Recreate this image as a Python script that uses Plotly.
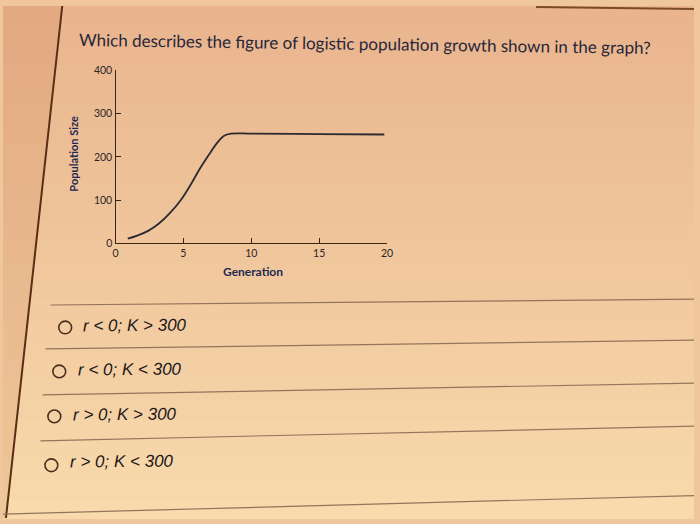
import plotly.graph_objects as go

# curve
generation = [0.9, 1.6, 2.4, 3.2, 4.0, 4.8, 5.5, 6.2, 6.9, 7.5, 8.0, 8.5, 10, 15, 19.8]
population = [11, 18, 29, 46, 70, 100, 134, 172, 206, 233, 249, 254, 254, 253, 252]

x_ticks = [0, 5, 10, 15, 20]
y_ticks = [0, 100, 200, 300, 400]

question = "Which describes the ﬁgure of logistic population growth shown in the graph?"
choices = ["r < 0; K > 300", "r < 0; K < 300", "r > 0; K > 300", "r > 0; K < 300"]

W, H = 700, 524
INK = "#3a2416"
NAVY = "#1d2a52"


def px(x, y):
    """pixel position -> paper coords"""
    return x / W, 1 - y / H


fig = go.Figure()
fig.add_trace(go.Scatter(
    x=generation, y=population, mode="lines",
    line=dict(color="#2a2a30", width=1.8, shape="spline", smoothing=1.0),
    hoverinfo="skip", showlegend=False,
))

shapes = []
# photo background: warm screen gradient, top to bottom
top, bottom = (233, 180, 142), (248, 218, 172)
n = 26
for i in range(n):
    t = i / (n - 1)
    c = tuple(round(a + (b - a) * t) for a, b in zip(top, bottom))
    x0, y0 = px(0, i * H / n)
    x1, y1 = px(W, (i + 1) * H / n + 1)
    shapes.append(dict(type="rect", xref="paper", yref="paper", x0=x0, x1=x1, y0=y1, y1=y0,
                       fillcolor="rgb(%d,%d,%d)" % c, line_width=0, layer="below"))
# darker strip left of the page edge
shapes.append(dict(type="path", xref="paper", yref="paper", layer="below",
                   path="M 0,1 L %f,1 L %f,0 L 0,0 Z" % (60 / W, 3 / W),
                   fillcolor="rgba(205,130,85,0.22)", line_width=0))
# page edges
for (xa, ya), (xb, yb), col in [((60, 0), (3, 524), "#5a2e15"),
                                ((540, 1), (700, 3), "#7a4a28")]:
    a, b = px(xa, ya), px(xb, yb)
    shapes.append(dict(type="line", xref="paper", yref="paper",
                       x0=a[0], y0=a[1], x1=b[0], y1=b[1], line=dict(color=col, width=2)))
# separators between answer choices
for (xa, ya), (xb, yb) in [((48, 306), (700, 300)), ((43, 351), (700, 342)),
                           ((40, 398), (700, 386)), ((38, 445), (700, 430)),
                           ((0, 520), (700, 501))]:
    a, b = px(xa, ya), px(xb, yb)
    shapes.append(dict(type="line", xref="paper", yref="paper",
                       x0=a[0], y0=a[1], x1=b[0], y1=b[1],
                       line=dict(color="#94745c", width=1.2)))

qx, qy = px(367, 38)
annotations = [dict(text=question, x=qx, y=qy, xref="paper", yref="paper",
                    xanchor="center", yanchor="middle", showarrow=False, textangle=0.8,
                    font=dict(family="Lato", size=17, color="#28263a"))]

# radio buttons + choice labels (page is photographed slightly skewed)
circle_pos = [(63, 329), (57, 374), (52, 420), (49, 470)]
text_pos = [(79, 327), (74, 372), (69, 418), (66, 466)]
for lab, (cx, cy), (tx, ty) in zip(choices, circle_pos, text_pos):
    r = 6.5
    a, b = px(cx - r, cy - r), px(cx + r, cy + r)
    shapes.append(dict(type="circle", xref="paper", yref="paper",
                       x0=a[0], x1=b[0], y0=b[1], y1=a[1],
                       line=dict(color="#4a2e1c", width=1.6)))
    p = px(tx, ty)
    annotations.append(dict(text="<i>%s</i>" % lab, x=p[0], y=p[1], xref="paper", yref="paper",
                            xanchor="left", yanchor="middle", showarrow=False, textangle=-0.5,
                            font=dict(family="Liberation Sans", size=17, color="#1e1a1a")))

# axis titles
p = px(71, 151)
annotations.append(dict(text="<b>Population Size</b>", x=p[0], y=p[1], xref="paper", yref="paper",
                        xanchor="center", yanchor="middle", showarrow=False, textangle=-90,
                        font=dict(family="Lato", size=11, color=NAVY)))
p = px(253, 272)
annotations.append(dict(text="<b>Generation</b>", x=p[0], y=p[1], xref="paper", yref="paper",
                        xanchor="center", yanchor="middle", showarrow=False,
                        font=dict(family="Lato", size=12, color=NAVY)))

axis_style = dict(showline=True, linecolor=INK, linewidth=1.4, ticks="inside", ticklen=5,
                  tickcolor=INK, tickwidth=1.2, showgrid=False, zeroline=False,
                  tickfont=dict(family="Lato", size=10.5, color="#2e2626"), fixedrange=True)

fig.update_layout(
    width=W, height=H,
    margin=dict(l=0, r=0, t=0, b=0),
    paper_bgcolor="#f0c69c", plot_bgcolor="rgba(0,0,0,0)",
    xaxis=dict(domain=[114 / W, 389 / W], range=[0, 20], tickvals=x_ticks, **axis_style),
    yaxis=dict(domain=[1 - 243 / H, 1 - 66 / H], range=[0, 400], tickvals=y_ticks, **axis_style),
    shapes=shapes,
    annotations=annotations,
)

# the page's default 8px body margin would push the figure off the window
fig.write_html("out.html", config={"displayModeBar": False},
               post_script="document.body.style.margin = '0';")
